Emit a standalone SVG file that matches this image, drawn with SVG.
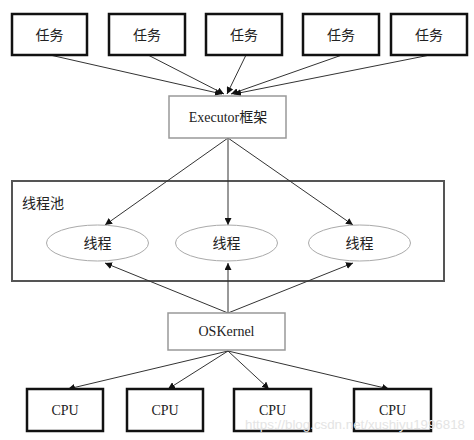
<svg xmlns="http://www.w3.org/2000/svg" width="474" height="440" viewBox="0 0 474 440">
<defs>
<marker id="ah" viewBox="0 0 10 10" refX="10" refY="5" markerWidth="7" markerHeight="7" markerUnits="userSpaceOnUse" orient="auto">
<path d="M0,0 L10,5 L0,10 z" fill="#111"/>
</marker>
</defs>
<style>
.bx{fill:#fff;stroke:#111;stroke-width:2.5}
.gb{fill:#fff;stroke:#999;stroke-width:1.5}
.el{fill:#fff;stroke:#aaa;stroke-width:1}
.pool{fill:none;stroke:#555;stroke-width:2}
.t{font-family:"Liberation Serif","Noto Sans CJK SC",serif;font-size:14px;fill:#222;text-anchor:middle;dominant-baseline:central}
.c{stroke:#333;stroke-width:1;fill:none;marker-end:url(#ah)}
.wm{font-family:"Liberation Sans",sans-serif;font-size:12px;fill:#e4e4e4}
</style>
<rect width="474" height="440" fill="#fff"/>
<g id="pool"><rect class="pool" x="12" y="181" width="432" height="100"/><text class="t" x="22" y="203" style="text-anchor:start">线程池</text></g>
<g id="connectors">
<path class="c" d="M50,55 L222,94"/>
<path class="c" d="M148,55 L224,94"/>
<path class="c" d="M246,55 L227,94"/>
<path class="c" d="M342,55 L231,94"/>
<path class="c" d="M430,55 L234,94"/>
<path class="c" d="M228,138 L105,225"/>
<path class="c" d="M228,138 L228,225"/>
<path class="c" d="M228,138 L353,225"/>
<path class="c" d="M228,313 L105,263"/>
<path class="c" d="M228,313 L228,263"/>
<path class="c" d="M228,313 L353,263"/>
<path class="c" d="M228,351 L68,389"/>
<path class="c" d="M228,351 L168,389"/>
<path class="c" d="M228,351 L269,389"/>
<path class="c" d="M228,351 L389,389"/>
</g>
<g id="task1"><rect class="bx" x="12" y="14" width="75" height="41"/><text class="t" x="49.5" y="35">任务</text></g>
<g id="task2"><rect class="bx" x="109" y="14" width="76" height="41"/><text class="t" x="147" y="35">任务</text></g>
<g id="task3"><rect class="bx" x="206" y="14" width="76" height="41"/><text class="t" x="244" y="35">任务</text></g>
<g id="task4"><rect class="bx" x="303" y="14" width="76" height="41"/><text class="t" x="341" y="35">任务</text></g>
<g id="task5"><rect class="bx" x="391" y="14" width="76" height="41"/><text class="t" x="429" y="35">任务</text></g>
<g id="executor"><rect class="gb" x="169" y="96" width="117" height="42"/><text class="t" x="228" y="117">Executor框架</text></g>
<g id="thread1"><ellipse class="el" cx="97.5" cy="243" rx="51" ry="18"/><text class="t" x="97.5" y="243">线程</text></g>
<g id="thread2"><ellipse class="el" cx="226.5" cy="243" rx="51" ry="18"/><text class="t" x="226.5" y="243">线程</text></g>
<g id="thread3"><ellipse class="el" cx="359.5" cy="243" rx="51" ry="18"/><text class="t" x="359.5" y="243">线程</text></g>
<g id="oskernel"><rect class="gb" x="168" y="313" width="117" height="37"/><text class="t" x="226.5" y="331">OSKernel</text></g>
<g id="cpu1"><rect class="bx" x="27" y="389" width="76" height="42"/><text class="t" x="65" y="410">CPU</text></g>
<g id="cpu2"><rect class="bx" x="127" y="389" width="76" height="42"/><text class="t" x="165" y="410">CPU</text></g>
<g id="cpu3"><rect class="bx" x="234" y="389" width="77" height="42"/><text class="t" x="272.5" y="410">CPU</text></g>
<g id="cpu4"><rect class="bx" x="354" y="389" width="77" height="42"/><text class="t" x="392.5" y="410">CPU</text></g>
<text class="wm" x="245" y="429" textLength="220" lengthAdjust="spacingAndGlyphs">https://blog.csdn.net/xushiyu1996818</text>
</svg>
